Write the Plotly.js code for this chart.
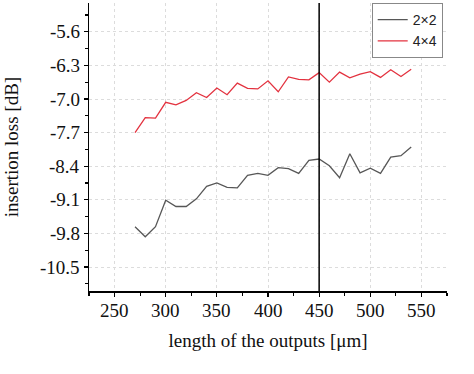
<!DOCTYPE html>
<html>
<head>
<meta charset="utf-8">
<script src="https://cdn.plot.ly/plotly-3.0.1.min.js"></script>
<style>html,body{margin:0;padding:0;background:#fff;}#chart{width:474px;height:374px;}</style>
</head>
<body>
<div id="chart"></div>
<script>
const lengths = [270,280,290,300,310,320,330,340,350,360,370,380,390,400,410,420,430,440,450,460,470,480,490,500,510,520,530,540];
const loss2x2 = [-9.66,-9.87,-9.66,-9.11,-9.24,-9.24,-9.08,-8.82,-8.75,-8.84,-8.85,-8.59,-8.55,-8.59,-8.43,-8.45,-8.55,-8.28,-8.25,-8.39,-8.64,-8.14,-8.54,-8.44,-8.55,-8.21,-8.18,-8.00];
const loss4x4 = [-7.70,-7.39,-7.40,-7.07,-7.12,-7.03,-6.87,-6.97,-6.77,-6.91,-6.67,-6.78,-6.79,-6.62,-6.85,-6.54,-6.59,-6.60,-6.45,-6.65,-6.44,-6.56,-6.48,-6.43,-6.55,-6.39,-6.53,-6.38];
const seriesNames = ['2×2','4×4'];
const xTickVals = [250,300,350,400,450,500,550];
const xTickText = ['250','300','350','400','450','500','550'];
const yTickVals = [-5.6,-6.3,-7.0,-7.7,-8.4,-9.1,-9.8,-10.5];
const yTickText = ['-5.6','-6.3','-7.0','-7.7','-8.4','-9.1','-9.8','-10.5'];
const markerX = 450;

const serif = 'Liberation Serif';
const tickFont = {family: serif, size: 19, color: '#111'};
const traces = [
  {x: lengths, y: loss2x2, name: seriesNames[0], mode: 'lines', line: {color: '#575757', width: 1.3}},
  {x: lengths, y: loss4x4, name: seriesNames[1], mode: 'lines', line: {color: '#e3323f', width: 1.3}}
];
const annotations = [];
xTickVals.forEach((v, i) => annotations.push({xref: 'x', yref: 'paper', x: v, y: 0, yanchor: 'top', xanchor: 'center',
  yshift: -7, showarrow: false, text: xTickText[i], font: tickFont}));
yTickVals.forEach((v, i) => annotations.push({xref: 'paper', yref: 'y', x: 0, y: v, xanchor: 'right', yanchor: 'middle',
  xshift: -7, showarrow: false, text: yTickText[i], font: tickFont}));

const layout = {
  width: 474, height: 374,
  font: {family: serif, size: 19, color: '#111'},
  margin: {l: 89, r: 27, t: 3, b: 83},
  paper_bgcolor: '#fff', plot_bgcolor: '#fff',
  showlegend: true,
  legend: {x: 0.988, xanchor: 'right', y: 1, yanchor: 'top', bordercolor: '#888', borderwidth: 1, bgcolor: '#fff',
           font: {family: 'Liberation Sans', size: 14, color: '#222'}, itemwidth: 30, tracegroupgap: 0},
  xaxis: {
    range: [225, 575], tickmode: 'array', tickvals: xTickVals, showticklabels: false,
    ticks: 'outside', ticklen: 4, tickwidth: 1.2, tickcolor: '#000',
    showline: true, linecolor: '#000', linewidth: 1.5, zeroline: false,
    showgrid: true, gridcolor: '#dcdcdc', griddash: 'dot', gridwidth: 1,
    minor: {dtick: 25, tick0: 225, ticks: 'outside', ticklen: 3, tickcolor: '#000', showgrid: false},
    title: {text: 'length of the outputs [μm]', font: {family: serif, size: 19, color: '#111'}, standoff: 38}
  },
  yaxis: {
    range: [-11, -5], tickmode: 'array', tickvals: yTickVals, showticklabels: false,
    ticks: 'outside', ticklen: 4, tickwidth: 1.2, tickcolor: '#000',
    showline: true, linecolor: '#000', linewidth: 1.5, zeroline: false,
    showgrid: true, gridcolor: '#dcdcdc', griddash: 'dot', gridwidth: 1,
    minor: {dtick: 0.35, tick0: -5.6, ticks: 'outside', ticklen: 3, tickcolor: '#000', showgrid: false},
    title: {text: 'insertion loss [dB]', font: {family: serif, size: 19, color: '#111'}, standoff: 60}
  },
  annotations: annotations,
  shapes: [{type: 'line', xref: 'x', yref: 'paper', x0: markerX, x1: markerX, y0: 0, y1: 1, line: {color: '#000', width: 1.5}}]
};
Plotly.newPlot('chart', traces, layout, {displayModeBar: false, staticPlot: true});
</script>
</body>
</html>
